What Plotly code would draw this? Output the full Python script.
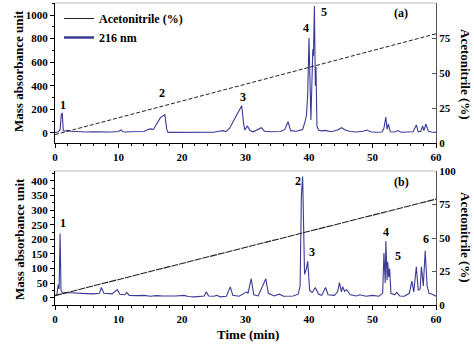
import plotly.graph_objects as go

# ---------------- data ----------------
time_a = [0, 0.5, 0.8, 1.0, 1.15, 1.3, 1.5, 2.0, 2.5, 3.5, 5, 6, 7, 8, 9, 10, 10.4, 10.7, 11, 12, 13, 14,
          14.6, 15.1, 15.5, 16.0, 16.6, 17.3, 17.6, 17.8, 19, 21, 23, 25, 25.8, 26.4, 26.9, 27.5, 28.0,
          28.5, 29.0, 29.4, 29.7, 29.9, 30.3, 30.7, 31.2, 32.0, 32.5, 33.0, 34, 35.5, 36.2, 36.7, 37.1,
          38, 39.0, 39.4, 39.6, 39.8, 40.0, 40.3, 40.6, 40.7, 40.85, 41.0, 41.1, 41.25, 41.5, 42, 42.5,
          43.5, 44.5, 45.1, 45.7, 46.5, 47.5, 48.5, 49.1, 49.7, 50.5, 51.5, 51.8, 52.1, 52.3, 52.5, 52.8,
          53.5, 54, 54.5, 55.5, 56.4, 56.9, 57.2, 57.6, 57.9, 58.1, 58.4, 58.8, 59.3, 60]
abs_a = [5, 8, 30, 160, 165, 20, 15, 22, 15, 10, 8, 10, 8, 12, 8, 12, 25, 10, 8, 10, 8, 12,
         30, 35, 30, 80, 130, 155, 30, 5, 6, 5, 8, 6, 15, 20, 12, 40, 90,
         140, 190, 230, 80, 25, 60, 20, 10, 30, 45, 15, 10, 12, 30, 95, 20,
         15, 30, 100, 150, 330, 805, 110, 710, 650, 1076, 400, 560, 60, 25, 18, 22,
         10, 25, 45, 25, 12, 8, 15, 25, 10, 6, 8, 40, 135, 30, 76, 10,
         8, 20, 6, 8, 10, 68, 10, 15, 59, 20, 76, 15, 8, 5]

time_b = [0, 0.3, 0.5, 0.65, 0.8, 0.95, 1.2, 1.6, 2.5, 3.5, 5, 6, 7, 7.3, 7.7, 9, 9.8, 10.2, 11.0, 11.3,
          11.7, 13, 14, 15, 16, 17, 18, 19, 20.3, 21, 22, 23.5, 23.8, 24.2, 25, 25.5, 26, 27, 27.6, 28,
          29, 30.2, 30.4, 30.9, 31.3, 32, 33.2, 33.6, 34.5, 35.3, 36, 37.5, 38.3, 38.6, 38.8, 39.0, 39.3,
          39.6, 39.8, 40.1, 40.5, 41.0, 41.5, 42.0, 42.6, 43.0, 44.0, 44.5, 44.8, 45.1, 45.3, 45.6, 45.9,
          46.5, 47.5, 48, 49, 50, 51, 51.6, 51.8, 52.0, 52.1, 52.3, 52.4, 52.55, 52.7, 52.9, 53.5, 53.8,
          54.3, 55, 55.8, 56.2, 56.5, 56.9, 57.2, 57.5, 57.7, 58.0, 58.3, 58.6, 58.9, 59.4, 60]
abs_b = [8, 10, 45, 30, 220, 25, 15, 18, 17, 15, 14, 13, 15, 35, 15, 13, 28, 12, 10, 18,
         8, 7, 8, 5, 7, 6, 5, 6, 8, 4, 3, 6, 20, 6, 5, 8, 3, 5, 37, 8,
         5, 20, 15, 65, 10, 6, 65, 15, 6, 12, 5, 6, 12, 40, 350, 415, 80,
         100, 125, 25, 18, 35, 12, 8, 35, 10, 8, 20, 52, 20, 38, 22, 28,
         10, 6, 10, 5, 8, 5, 15, 153, 50, 194, 60, 123, 70, 100, 15, 10, 18,
         6, 5, 15, 57, 20, 106, 25, 30, 106, 40, 161, 40, 15, 12, 5]

grad_time = [0, 60]
grad_a = [6, 78]
grad_b = [7, 79]

labels_a = [("1", 1.2, 237), ("2", 16.9, 340), ("3", 29.6, 305), ("4", 39.5, 890), ("5", 42.4, 1025)]
labels_b = [("1", 1.2, 257), ("2", 38.3, 400), ("3", 40.5, 158), ("4", 52.1, 226), ("5", 54.0, 143), ("6", 58.4, 200)]

# ---------------- figure ----------------
W, H = 474, 363
BLUE = "#3a3a96"
FONT = "Liberation Serif"

def px_x(p):
    return p / W

def px_y(p):
    return 1 - p / H

fig = go.Figure()

fig.add_trace(go.Scatter(x=time_a, y=abs_a, mode="lines", line=dict(color=BLUE, width=1.1),
                         xaxis="x", yaxis="y", showlegend=False))
fig.add_trace(go.Scatter(x=grad_time, y=grad_a, mode="lines", line=dict(color="#222", width=1, dash="4px,2px"),
                         xaxis="x", yaxis="y3", showlegend=False))
fig.add_trace(go.Scatter(x=time_b, y=abs_b, mode="lines", line=dict(color=BLUE, width=1.1),
                         xaxis="x2", yaxis="y2", showlegend=False))
fig.add_trace(go.Scatter(x=grad_time, y=grad_b, mode="lines", line=dict(color="#222", width=1.1, dash="7px,1px"),
                         xaxis="x2", yaxis="y4", showlegend=False))
# legend entries
fig.add_trace(go.Scatter(x=[None], y=[None], mode="lines", name="Acetonitrile (%)",
                         line=dict(color="#222", width=1), xaxis="x", yaxis="y"))
fig.add_trace(go.Scatter(x=[None], y=[None], mode="lines", name="216 nm",
                         line=dict(color=BLUE, width=2.5), xaxis="x", yaxis="y"))

tickfont = dict(family=FONT, size=11, color="black", weight="bold")
xdom = [px_x(55), px_x(436)]
dom_a = [px_y(143), px_y(3)]
dom_b = [px_y(305), px_y(171)]

xcommon = dict(range=[0, 60], dtick=10, ticks="outside", ticklen=4, tickcolor="black",
               showline=True, linecolor="black", linewidth=1, mirror=False, showgrid=False,
               zeroline=False, tickfont=tickfont, domain=xdom, automargin=False,
               minor=dict(dtick=2, ticks="outside", ticklen=2, tickcolor="black"))
ycommon = dict(ticks="outside", ticklen=4, tickcolor="black", showline=True, linecolor="black",
               linewidth=1, showgrid=False, zeroline=False, tickfont=tickfont, automargin=False)
rcommon = dict(range=[0, 100], dtick=25, ticks="inside", ticklen=4, tickcolor="#555",
               showline=True, linecolor="#555", linewidth=1, showgrid=False, zeroline=False,
               tickfont=tickfont, side="right", automargin=False)

fig.update_layout(
    width=W, height=H, margin=dict(l=0, r=0, t=0, b=0, autoexpand=False),
    paper_bgcolor="white", plot_bgcolor="white",
    xaxis=dict(**xcommon, anchor="y"),
    xaxis2=dict(**xcommon, anchor="y2"),
    yaxis=dict(**ycommon, range=[-85, 1102], dtick=200, domain=dom_a, anchor="x",
               minor=dict(dtick=100, ticks="outside", ticklen=2, tickcolor="black")),
    yaxis2=dict(**ycommon, range=[-25, 434], dtick=50, domain=dom_b, anchor="x2",
                minor=dict(dtick=25, ticks="outside", ticklen=2, tickcolor="black")),
    yaxis3=dict(**rcommon, overlaying="y", anchor="x"),
    yaxis4=dict(**rcommon, overlaying="y2", anchor="x2"),
    legend=dict(x=px_x(59), y=px_y(4), xanchor="left", yanchor="top", bgcolor="rgba(0,0,0,0)",
                font=dict(family=FONT, size=12, color="black", weight="bold"),
                itemwidth=30, tracegroupgap=2),
    shapes=[
        dict(type="line", xref="paper", yref="paper", x0=xdom[0], x1=xdom[1], y0=dom_a[1], y1=dom_a[1],
             line=dict(color="#bbb", width=1)),
        dict(type="line", xref="paper", yref="paper", x0=xdom[0], x1=xdom[1], y0=dom_b[1], y1=dom_b[1],
             line=dict(color="#bbb", width=1)),
    ],
)

ann = []
for txt, t, v in labels_a:
    ann.append(dict(x=t, y=v, xref="x", yref="y", text=txt, showarrow=False,
                    xanchor="center", yanchor="middle",
                    font=dict(family=FONT, size=12, color="black", weight="bold")))
for txt, t, v in labels_b:
    ann.append(dict(x=t, y=v, xref="x2", yref="y2", text=txt, showarrow=False,
                    xanchor="center", yanchor="middle",
                    font=dict(family=FONT, size=12, color="black", weight="bold")))
titlefont = dict(family=FONT, size=13, color="black", weight="bold")

def pann(x, y, text, angle=0, font=None):
    return dict(x=px_x(x), y=px_y(y), xref="paper", yref="paper", text=text, textangle=angle,
                showarrow=False, xanchor="center", yanchor="middle",
                font=font or titlefont)

small = dict(family=FONT, size=12, color="black", weight="bold")
ann += [
    pann(401, 13, "(a)", font=small),
    pann(401, 182, "(b)", font=small),
    pann(19, 71, "Mass absorbance unit", -90),
    pann(19, 239, "Mass absorbance unit", -90),
    pann(466, 74, "Acetonitrile (%)", 90),
    pann(466, 237, "Acetonitrile (%)", 90),
    pann(248, 334, "Time (min)"),
]
fig.update_layout(annotations=ann)

fig.write_html("out.html", config={"displayModeBar": False},
               post_script="document.body.style.margin='0';document.body.style.overflow='hidden';")
